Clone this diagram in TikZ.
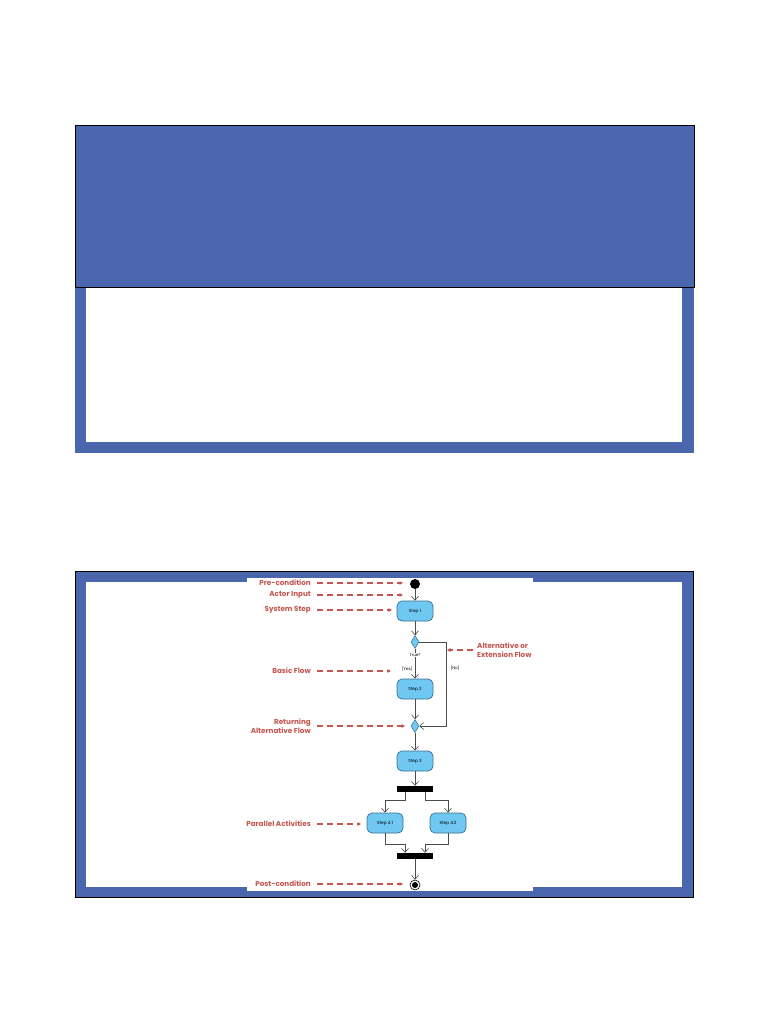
\documentclass[tikz,border=0pt]{standalone}
\usepackage{fontspec}
\setmainfont{Poppins}
\usetikzlibrary{arrows.meta,shapes.geometric,calc}
\definecolor{slideblue}{HTML}{4A66AC}
\definecolor{lblred}{HTML}{C4554F}
\definecolor{stepfill}{HTML}{6EC8F2}
\definecolor{stepline}{HTML}{3D6E8C}
\begin{document}
\begin{tikzpicture}[x=1pt,y=-1pt,
  stepbox/.style={draw=stepline, fill=stepfill, rounded corners=5pt, minimum width=36pt, minimum height=20pt, line width=0.7pt, inner sep=0pt, font=\fontsize{4.3}{4.3}\selectfont},
  decision/.style={diamond, draw=stepline, fill=stepfill, minimum width=8pt, minimum height=13pt, inner sep=0pt, line width=0.5pt},
  syncbar/.style={fill=black, minimum width=36pt, minimum height=6pt, inner sep=0pt},
  flow/.style={draw=black!70, line width=0.6pt, -{Straight Barb[length=4pt,width=7pt]}},
  note/.style={text=lblred, font=\bfseries\fontsize{7.2}{8.5}\selectfont, inner sep=0pt},
  notearrow/.style={draw=lblred, line width=1.2pt, dash pattern=on 6pt off 4pt, -{Triangle[length=3.5pt,width=3.5pt]}},
  guard/.style={font=\fontsize{4}{4}\selectfont, inner sep=0.5pt}
]
\useasboundingbox (0,0) rectangle (768,1024);
% top slide
\fill[slideblue] (75,287) rectangle (694,453);
\fill[white] (86,287) rectangle (682,442);
\draw[fill=slideblue, line width=0.8pt] (75,125) rectangle (694,287);
% bottom slide
\draw[fill=slideblue, line width=0.8pt] (75,571) rectangle (693,897);
\fill[white] (86,582) rectangle (682,887);
\fill[white] (247,578) rectangle (533,891);
% activity nodes
\node[circle, fill=black, minimum size=10pt, inner sep=0pt] (init) at (415,584) {};
\node[stepbox] (s1) at (415,611) {Step 1};
\node[decision] (dec) at (415,642) {};
\node[stepbox] (s2) at (415,689) {Step 2};
\node[decision] (merge) at (415,726) {};
\node[stepbox] (s3) at (415,761) {Step 3};
\node[syncbar] (fork) at (415,789) {};
\node[stepbox] (s41) at (385,823) {Step 4.1};
\node[stepbox] (s42) at (448,823) {Step 4.2};
\node[syncbar] (join) at (415,856) {};
\node[circle, draw=black, fill=white, line width=0.6pt, minimum size=10pt, inner sep=0pt] (final) at (415,885) {};
\node[circle, fill=black, minimum size=6pt, inner sep=0pt] (finaldot) at (final.center) {};
% connectors
\draw[flow] (init) -- (s1);
\draw[flow] (s1) -- (dec);
\draw[flow] (dec) -- (s2);
\draw[flow] (s2) -- (merge);
\draw[flow] (dec.east) -- ++(27,0) |- (merge.east);
\draw[flow] (merge) -- (s3);
\draw[flow] (s3) -- (fork);
\draw[flow] ([xshift=-10pt]fork.south) -- ++(0,8) -| (s41.north);
\draw[flow] ([xshift=10pt]fork.south) -- ++(0,8) -| (s42.north);
\draw[flow] (s41.south) -- ++(0,11) -| ([xshift=-10pt]join.north);
\draw[flow] (s42.south) -- ++(0,11) -| ([xshift=10pt]join.north);
\draw[flow] (join) -- (final);
% guards
\node[guard, fill=white] (tq) at (415,655) {True?};
\node[guard, anchor=east] (yes) at (413,669) {[Yes]};
\node[guard] (no) at (455,668) {[No]};
% notes
\node[note, anchor=east] (npre) at (311,583) {Pre-condition};
\node[note, anchor=east] (nact) at (311,595) {Actor Input};
\node[note, anchor=east] (nsys) at (311,610) {System Step};
\node[note, anchor=east] (nbas) at (311,671) {Basic Flow};
\node[note, anchor=east, align=right] (nret) at (311,726) {Returning\\Alternative Flow};
\node[note, anchor=east] (npar) at (311,824) {Parallel Activities};
\node[note, anchor=east] (npost) at (311,884) {Post-condition};
\node[note, anchor=west, align=left] (nalt) at (477,650) {Alternative or\\Extension Flow};
\coordinate (tpre) at (403,583);
\coordinate (tact) at (403,595);
\coordinate (tsys) at (392,610);
\coordinate (tbas) at (391,671);
\coordinate (tret) at (405,726);
\coordinate (tpar) at (361,824);
\coordinate (tpost) at (403,884);
\coordinate (talt) at (447,650);
\draw[notearrow] ([xshift=6pt]npre.east) -- (tpre);
\draw[notearrow] ([xshift=6pt]nact.east) -- (tact);
\draw[notearrow] ([xshift=6pt]nsys.east) -- (tsys);
\draw[notearrow] ([xshift=6pt]nbas.east) -- (tbas);
\draw[notearrow] ([xshift=6pt]nret.east) -- (tret);
\draw[notearrow] ([xshift=6pt]npar.east) -- (tpar);
\draw[notearrow] ([xshift=6pt]npost.east) -- (tpost);
\draw[notearrow] ([xshift=-4pt]nalt.west) -- (talt);
\end{tikzpicture}
\end{document}
